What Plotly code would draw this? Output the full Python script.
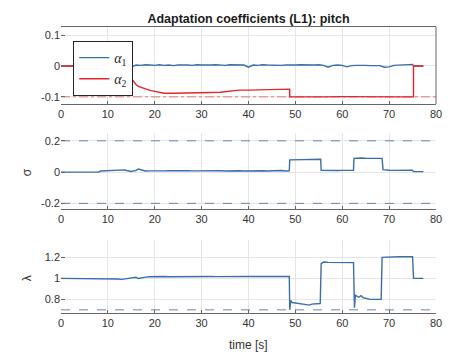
import plotly.graph_objects as go

# ---------------- data ----------------
alpha1_t = [0, 12.0, 12.5, 13.0, 13.5, 14.0, 14.5, 15.0,
            16, 17, 18, 19, 20, 21, 22, 23, 24, 25,
            26, 27, 28, 29, 30, 31, 32, 33, 34, 35,
            36, 37, 38, 39, 40, 41, 42, 43, 44, 45,
            46, 47, 48, 49, 50, 51, 52, 53, 54, 55,
            56, 57, 58, 59, 60, 61, 62, 63, 64, 65,
            66, 67, 68, 69, 70, 71, 72, 73, 74,
            75.0, 75.3, 77.3]
alpha1_v = [0, 0, 0.001, -0.004, 0.002, -0.005, 0.001, -0.003,
            0.003, 0.002, 0.004, 0.003, 0.002, 0.004, 0.002, 0.003, 0.001, 0.003,
            0.004, 0.003, 0.002, 0.004, 0.003, 0.002, 0.003, 0.004, 0.003, 0.002,
            0.004, 0.003, 0.002, 0.003, -0.004, 0.003, 0.002, 0.004, 0.003, 0.002,
            0.003, 0.002, 0.003, 0.002, 0.003, 0.004, 0.003, 0.002, 0.003, 0.004,
            0.002, -0.004, 0.002, 0.003, 0.002, -0.003, 0.001, 0.002, 0.003, 0.002,
            0.001, 0.002, 0.001, -0.004, -0.003, 0.002, 0.003, 0.004, 0.005,
            0.005, 0.0, 0.0]

alpha2_t = [0, 12.5, 13.0, 13.5, 14.0, 14.5, 15.0, 15.5, 16.0, 16.5, 17.0, 17.5, 18.0,
            19.0, 20.0, 21.0, 22.0,
            24.0, 26.0, 28.0, 30.0, 32.0, 34.0,
            35.0, 36.0, 37.0, 38.0,
            40.0, 42.0, 44.0, 46.0,
            48.8, 48.8,
            52.0, 56.0, 60.0, 64.0, 68.0, 72.0,
            75.2, 75.2, 77.3]
alpha2_v = [0, 0, -0.008, -0.015, -0.022, -0.03, -0.04, -0.052, -0.06, -0.066, -0.069, -0.072, -0.075,
            -0.079, -0.082, -0.085, -0.088,
            -0.088, -0.088, -0.087, -0.087, -0.086, -0.085,
            -0.083, -0.082, -0.08, -0.078,
            -0.078, -0.077, -0.076, -0.075,
            -0.075, -0.1,
            -0.099, -0.1, -0.099, -0.1, -0.099, -0.1,
            -0.1, 0.0, 0.0]
alpha2_limit = -0.1

sigma_t = [0, 8.0, 8.5, 9, 10, 11, 12, 12.5, 13, 13.5, 14, 14.5, 15, 15.5, 16, 16.5, 17, 17.5,
           18, 19, 20, 21, 22, 23, 24, 25, 26, 27, 28, 29, 30, 31, 32, 33, 34, 35,
           36, 37, 38, 39, 40, 41, 42, 43, 44, 45, 46, 47, 48, 48.7,
           48.8, 50, 51, 52, 53, 54, 55, 55.4,
           55.5, 57, 58, 59, 60, 61, 62, 62.4,
           62.5, 63, 64, 65, 66, 67, 68, 68.5,
           68.7, 69.5, 70, 71, 72, 73, 74, 74.6, 75.0, 75.2, 77.3]
sigma_v = [0, 0, 0.007, 0.008, 0.009, 0.008, 0.01, 0.014, 0.016, 0.014, 0.01, 0.008, 0.004, 0.008, 0.01, 0.02, 0.014, 0.01,
           0.007, 0.008, 0.007, 0.009, 0.008, 0.009, 0.01, 0.009, 0.01, 0.009, 0.008, 0.009, 0.008, 0.009, 0.01, 0.008, 0.009, 0.007,
           0.009, 0.008, 0.009, 0.007, 0.008, 0.01, 0.008, 0.009, 0.007, 0.009, 0.008, 0.01, 0.007, 0.008,
           0.078, 0.079, 0.08, 0.081, 0.082, 0.081, 0.082, 0.082,
           0.012, 0.01, 0.011, 0.01, 0.011, 0.01, 0.011, 0.012,
           0.088, 0.09, 0.09, 0.089, 0.09, 0.09, 0.089, 0.088,
           0.016, 0.012, 0.012, 0.011, 0.012, 0.011, 0.012, 0.016, 0.012, 0.003, 0.003]
sigma_limits = [0.2, -0.2]

lambda_t = [0, 8, 9, 10, 11, 12, 13, 13.5, 14, 15, 16, 16.5, 17,
            18, 19, 20, 21, 22, 23, 24, 25, 26, 27, 28, 29, 30, 31, 32, 33,
            34, 35, 36, 37, 38, 39, 40, 41, 42, 43, 44, 45, 46, 47, 48, 48.7,
            48.8, 49.0, 49.3, 50, 51, 52, 53, 53.5, 54, 55, 55.3,
            55.5, 56, 57, 58, 59, 60, 61, 62, 62.4,
            62.6, 62.8, 63.5, 64, 64.5, 65, 66, 67, 68, 68.3,
            68.5, 70, 72, 74, 75.0, 75.2, 77.3]
lambda_v = [1.0, 1.0, 0.997, 0.996, 0.995, 0.994, 0.99, 0.993, 0.996, 1.005, 1.01, 0.998, 1.003,
            1.012, 1.015, 1.018, 1.014, 1.017, 1.015, 1.016, 1.014, 1.018, 1.016, 1.015, 1.017, 1.015, 1.016, 1.018, 1.016,
            1.017, 1.018, 1.017, 1.016, 1.018, 1.017, 1.018, 1.017, 1.016, 1.018, 1.017, 1.018, 1.016, 1.017, 1.018, 1.018,
            0.70, 0.79, 0.77, 0.765, 0.76, 0.758, 0.745, 0.755, 0.758, 0.76, 0.76,
            1.14, 1.155, 1.152, 1.153, 1.152, 1.153, 1.152, 1.153, 1.15,
            0.72, 0.84, 0.82, 0.835, 0.815, 0.81, 0.8, 0.8, 0.8, 0.8,
            1.2, 1.205, 1.205, 1.205, 1.205, 1.0, 1.0]
lambda_limit = 0.7

x_ticks = [0, 10, 20, 30, 40, 50, 60, 70, 80]

assert len(alpha1_t) == len(alpha1_v)
assert len(alpha2_t) == len(alpha2_v)
assert len(sigma_t) == len(sigma_v)
assert len(lambda_t) == len(lambda_v)

# ---------------- style ----------------
BLUE = "#3b6fa9"
RED = "#e8232a"
LIMIT_BLUE = "rgba(80,115,160,0.85)"
FONT = "Liberation Sans, Arial, sans-serif"
TXT = "#333333"
GRID = "#e6e6e6"
AX = "#666666"

# page body has an 8px default margin: build the figure 8px smaller
OFF = 8
W, H = 474 - OFF, 355 - OFF

fig = go.Figure()

# top panel
fig.add_trace(go.Scatter(x=[0, 80], y=[alpha2_limit, alpha2_limit], mode="lines",
                         line=dict(color="rgba(220,60,60,0.75)", width=0.9, dash="dashdot"),
                         showlegend=False, xaxis="x", yaxis="y", hoverinfo="skip"))
fig.add_trace(go.Scatter(x=alpha1_t, y=alpha1_v, mode="lines", name="<i>α</i><sub>1</sub>",
                         line=dict(color=BLUE, width=1.4), xaxis="x", yaxis="y"))
fig.add_trace(go.Scatter(x=alpha2_t, y=alpha2_v, mode="lines", name="<i>α</i><sub>2</sub>",
                         line=dict(color=RED, width=1.4), xaxis="x", yaxis="y"))

# middle panel
for lim in sigma_limits:
    fig.add_trace(go.Scatter(x=[0, 80], y=[lim, lim], mode="lines",
                             line=dict(color=LIMIT_BLUE, width=1, dash="dash"),
                             showlegend=False, xaxis="x2", yaxis="y2", hoverinfo="skip"))
fig.add_trace(go.Scatter(x=sigma_t, y=sigma_v, mode="lines", showlegend=False,
                         line=dict(color=BLUE, width=1.4), xaxis="x2", yaxis="y2"))

# bottom panel
fig.add_trace(go.Scatter(x=[0, 80], y=[lambda_limit, lambda_limit], mode="lines",
                         line=dict(color=LIMIT_BLUE, width=1, dash="dash"),
                         showlegend=False, xaxis="x3", yaxis="y3", hoverinfo="skip"))
fig.add_trace(go.Scatter(x=lambda_t, y=lambda_v, mode="lines", showlegend=False,
                         line=dict(color=BLUE, width=1.4), xaxis="x3", yaxis="y3"))

H0, H1 = 27, 313  # plot-area pixel top / bottom (screen coords)


def dom(top_px, bot_px):
    return [(H1 - bot_px) / (H1 - H0), (H1 - top_px) / (H1 - H0)]


xcommon = dict(range=[0, 80], tickvals=x_ticks, showgrid=True, gridcolor=GRID, gridwidth=1,
               zeroline=False, showline=True, linecolor=AX, linewidth=1,
               ticks="inside", ticklen=3, tickcolor=AX,
               tickfont=dict(family=FONT, size=11, color=TXT))
ycommon = dict(showgrid=True, gridcolor=GRID, gridwidth=1, zeroline=False, showline=False,
               ticks="inside", ticklen=4, tickcolor=AX,
               tickfont=dict(family=FONT, size=11, color=TXT))

fig.update_layout(
    width=W, height=H,
    margin=dict(l=61 - OFF, r=46 - OFF, t=H0 - OFF, b=355 - H1),
    paper_bgcolor="white", plot_bgcolor="white",
    title=dict(text="<b>Adaptation coefficients (L1): pitch</b>", x=0.5, xref="paper",
               xanchor="center", y=1 - (19 - OFF) / H, yref="container", yanchor="middle",
               font=dict(family=FONT, size=12.5, color="#1a1a1a")),
    xaxis=dict(**xcommon, domain=[0, 1], anchor="y", mirror=True),
    yaxis=dict(**ycommon, domain=dom(27, 104), anchor="x", range=[-0.123, 0.126],
               tickvals=[-0.1, 0, 0.1], ticktext=["-0.1", "0", "0.1"]),
    xaxis2=dict(**xcommon, domain=[0, 1], anchor="y2"),
    yaxis2=dict(**ycommon, domain=dom(133, 209), anchor="x2", range=[-0.236, 0.25],
                tickvals=[-0.2, 0, 0.2], ticktext=["-0.2", "0", "0.2"]),
    xaxis3=dict(**xcommon, domain=[0, 1], anchor="y3"),
    yaxis3=dict(**ycommon, domain=dom(240, 313), anchor="x3", range=[0.67, 1.365],
                tickvals=[0.8, 1.0, 1.2], ticktext=["0.8", "1", "1.2"]),
    legend=dict(x=(73 - 61) / 367, y=(H1 - 41) / (H1 - H0), xanchor="left", yanchor="top",
                bgcolor="white", bordercolor="#262626", borderwidth=1,
                font=dict(family="Liberation Serif, serif", size=14, color="#262626"),
                itemwidth=30, tracegroupgap=0),
    showlegend=True,
    shapes=[dict(type="line", xref="x domain", yref="y domain", x0=1, x1=1, y0=0, y1=1,
                 line=dict(color=AX, width=1))],
    annotations=[
        dict(text="σ", xref="paper", yref="paper", x=(28 - 61) / 367, y=(H1 - 172) / (H1 - H0),
             showarrow=False, textangle=-90, xanchor="center", yanchor="middle",
             font=dict(family=FONT, size=12, color=TXT)),
        dict(text="λ", xref="paper", yref="paper", x=(28 - 61) / 367, y=(H1 - 278) / (H1 - H0),
             showarrow=False, textangle=-90, xanchor="center", yanchor="middle",
             font=dict(family=FONT, size=12, color=TXT)),
        dict(text="time [s]", xref="paper", yref="paper", x=0.5, y=(H1 - 345) / (H1 - H0),
             showarrow=False, xanchor="center", yanchor="middle",
             font=dict(family=FONT, size=12, color=TXT)),
    ],
)

fig.write_html("out.html")
